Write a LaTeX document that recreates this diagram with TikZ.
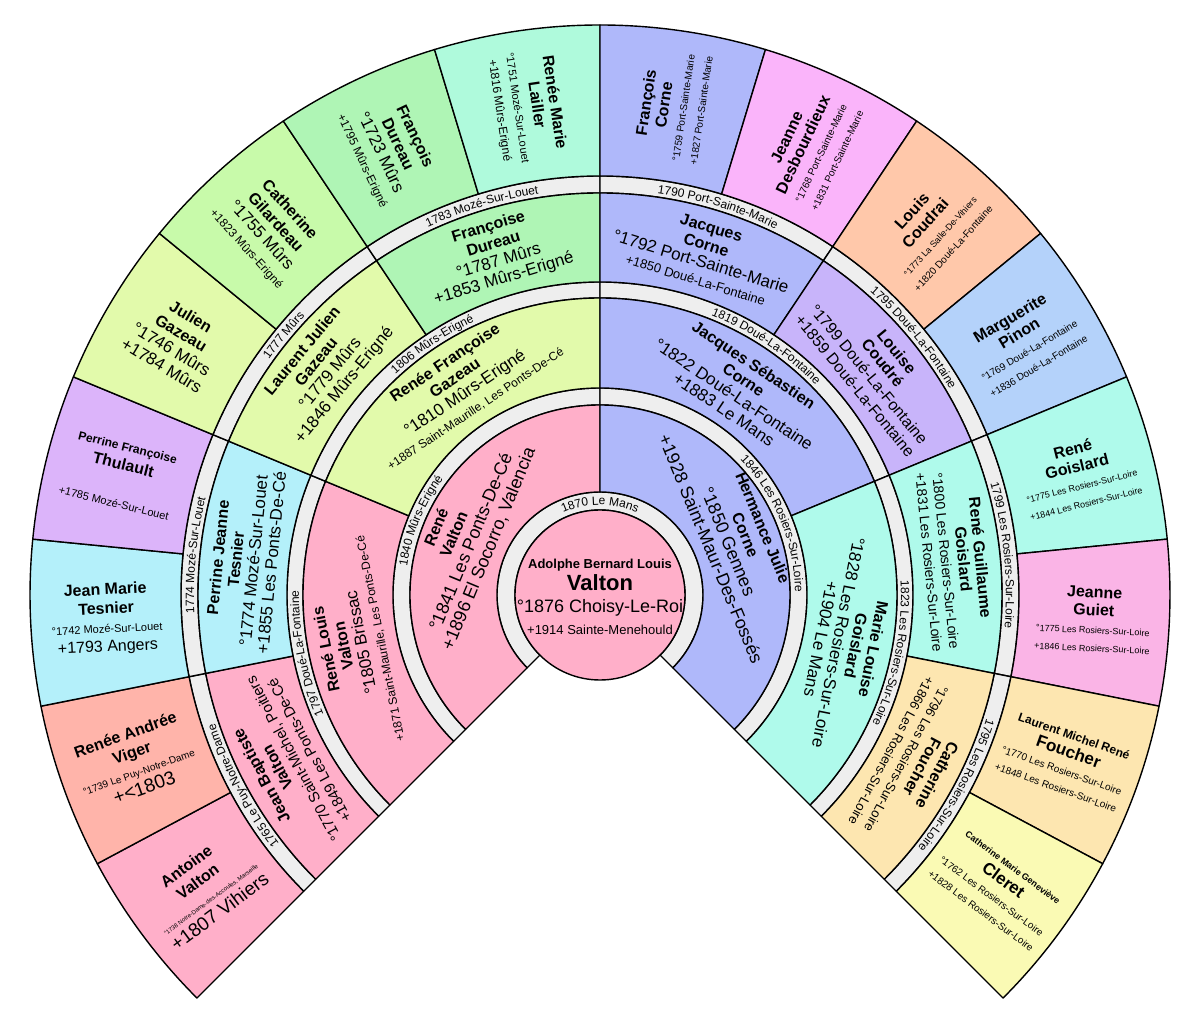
\documentclass[tikz,border=0pt]{standalone}
\usepackage{fontspec}
\setmainfont{Liberation Sans}
\usetikzlibrary{decorations.text}
\newcommand\B[2]{{\fontsize{#1pt}{#1pt}\selectfont\bfseries #2}}
\newcommand\N[2]{{\fontsize{#1pt}{#1pt}\selectfont #2}}
\newcommand\gl{\fontsize{12pt}{12pt}\selectfont}
\newcommand\sect[5]{\filldraw[fill=#5,draw=black,line width=1.4pt,line join=round] (#3:#1pt) arc[start angle=#3,end angle=#4,radius=#1pt] -- (#4:#2pt) arc[start angle=#4,end angle=#3,radius=#2pt] -- cycle;}
\newcommand\glab[4]{\path[decorate,decoration={text along path,text align=center,text={|\gl|#4}}] (#2:#1pt) arc[start angle=#2,end angle=#3,radius=#1pt];}
\definecolor{pk}{HTML}{FFAFC9}
\definecolor{gz}{HTML}{E2FAAB}
\definecolor{du}{HTML}{AFF5B5}
\definecolor{co}{HTML}{AFB8FA}
\definecolor{go}{HTML}{AFFAEB}
\definecolor{cd}{HTML}{C8B4FA}
\definecolor{te}{HTML}{B4F0FA}
\definecolor{fo}{HTML}{FDE6B0}
\definecolor{vi}{HTML}{FFB4AA}
\definecolor{th}{HTML}{DCB4FA}
\definecolor{gi}{HTML}{C8FAAA}
\definecolor{la}{HTML}{AFFADC}
\definecolor{de}{HTML}{FAB4FA}
\definecolor{cr}{HTML}{FFC8AA}
\definecolor{pi}{HTML}{B4D2FA}
\definecolor{gu}{HTML}{FAB4E6}
\definecolor{cl}{HTML}{FAFAB4}
\definecolor{gap}{HTML}{EEEEEE}
\tikzset{txt/.style={align=center,inner sep=0pt,font={\fontsize{10pt}{#1pt}\selectfont}},txt/.default=19}
\begin{document}
\begin{tikzpicture}
\useasboundingbox (-600pt,-429pt) rectangle (600pt,595pt);
% gaps
\sect{85}{103}{225}{-45}{gap}
\sect{190}{207}{225}{90}{gap}\sect{190}{207}{90}{-45}{gap}
\foreach \a in {225,157.5,90,22.5}{\pgfmathsetmacro\b{\a-67.5}\sect{297}{313}{\a}{\b}{gap}}
\foreach \a in {225,191.25,157.5,123.75,90,56.25,22.5,-11.25}{\pgfmathsetmacro\b{\a-33.75}\sect{402}{419}{\a}{\b}{gap}}
% gen1
\sect{103}{190}{225}{90}{pk}\sect{103}{190}{90}{-45}{co}
% gen2
\sect{207}{297}{225}{157.5}{pk}\sect{207}{297}{157.5}{90}{gz}\sect{207}{297}{90}{22.5}{co}\sect{207}{297}{22.5}{-45}{go}
% gen3
\sect{313}{402}{225}{191.25}{pk}\sect{313}{402}{191.25}{157.5}{te}
\sect{313}{402}{157.5}{123.75}{gz}\sect{313}{402}{123.75}{90}{du}
\sect{313}{402}{90}{56.25}{co}\sect{313}{402}{56.25}{22.5}{cd}
\sect{313}{402}{22.5}{-11.25}{go}\sect{313}{402}{-11.25}{-45}{fo}
% gen4
\foreach \c [count=\i from 0] in {pk,vi,te,th,gz,gi,du,la,co,de,cr,pi,go,gu,fo,cl}{
\pgfmathsetmacro\a{225-16.875*\i}\pgfmathsetmacro\b{\a-16.875}\sect{419}{570}{\a}{\b}{\c}}
% center
\filldraw[fill=pk,draw=black,line width=1.4pt] (0,0) circle[radius=85pt];
\node[txt=22] (c0) at (0,-2pt) {\B{13}{Adolphe Bernard Louis}\\\B{22}{Valton}\\\N{18}{°1876 Choisy-Le-Roi}\\\N{13}{+1914 Sainte-Menehould}};
% gen1
\node[txt=19,rotate=67.5] (g1a) at (157.5:148pt) {\B{16}{René}\\\B{16}{Valton}\\\N{18}{°1841 Les Ponts-De-Cé}\\\N{18}{+1896 El Socorro, Valencia}};
\node[txt=19,rotate=-67.5] (g1b) at (22.5:148pt) {\B{16}{Hermance Julie}\\\B{16}{Corne}\\\N{18}{°1850 Gennes}\\\N{18}{+1928 Saint-Maur-Des-Fossés}};
% gen2
\node[txt=18,rotate=101.25] (g2a) at (191.25:252pt) {\B{16}{René Louis}\\\B{16}{Valton}\\\N{17}{°1805 Brissac}\\\N{12}{+1871 Saint-Maurille, Les Ponts-De-Cé}};
\node[txt=18,rotate=33.75] (g2b) at (123.75:252pt) {\B{16}{Renée Françoise}\\\B{16}{Gazeau}\\\N{17}{°1810 Mûrs-Erigné}\\\N{12}{+1887 Saint-Maurille, Les Ponts-De-Cé}};
\node[txt=18,rotate=-33.75] (g2c) at (56.25:250pt) {\B{16}{Jacques Sébastien}\\\B{16}{Corne}\\\N{17}{°1822 Doué-La-Fontaine}\\\N{17}{+1883 Le Mans}};
\node[txt=18,rotate=-101.25] (g2d) at (-11.25:252pt) {\B{16}{Marie Louise}\\\B{16}{Goislard}\\\N{17}{°1828 Les Rosiers-Sur-Loire}\\\N{17}{+1904 Le Mans}};
% gen3
\node[txt=18,rotate=118.125] (g3a) at (208.125:357pt) {\B{16}{Jean Baptiste}\\\B{16}{Valton}\\\N{15}{°1770 Saint-Michel, Poitiers}\\\N{15}{+1849 Les Ponts-De-Cé}};
\node[txt=18,rotate=84.375] (g3b) at (174.375:357pt) {\B{16}{Perrine Jeanne}\\\B{16}{Tesnier}\\\N{17}{°1774 Mozé-Sur-Louet}\\\N{17}{+1855 Les Ponts-De-Cé}};
\node[txt=18,rotate=50.625] (g3c) at (140.625:357pt) {\B{16}{Laurent Julien}\\\B{16}{Gazeau}\\\N{17}{°1779 Mûrs}\\\N{17}{+1846 Mûrs-Erigné}};
\node[txt=18,rotate=16.875] (g3d) at (106.875:357pt) {\B{16}{Françoise}\\\B{16}{Dureau}\\\N{17}{°1787 Mûrs}\\\N{17}{+1853 Mûrs-Erigné}};
\node[txt=18,rotate=-16.875] (g3e) at (73.125:357pt) {\B{16}{Jacques}\\\B{16}{Corne}\\\N{17}{°1792 Port-Sainte-Marie}\\\N{13}{+1850 Doué-La-Fontaine}};
\node[txt=18,rotate=-50.625] (g3f) at (39.375:357pt) {\B{16}{Louise}\\\B{16}{Coudré}\\\N{16}{°1799 Doué-La-Fontaine}\\\N{16}{+1859 Doué-La-Fontaine}};
\node[txt=17,rotate=-84.375] (g3g) at (5.625:357pt) {\B{16}{René Guillaume}\\\B{16}{Goislard}\\\N{14}{°1800 Les Rosiers-Sur-Loire}\\\N{14}{+1831 Les Rosiers-Sur-Loire}};
\node[txt=17,rotate=-118.125] (g3h) at (-28.125:357pt) {\B{16}{Catherine}\\\B{16}{Foucher}\\\N{13}{°1796 Les Rosiers-Sur-Loire}\\\N{13}{+1866 Les Rosiers-Sur-Loire}};
% gen4
\node[txt=19,rotate=36.5625] (g4a) at (216.5625:494pt) {\B{16}{Antoine}\\\B{16}{Valton}\\\N{6}{°1738 Notre-Dame-des-Accoules, Marseille}\\\N{19}{+1807 Vihiers}};
\node[txt=19,rotate=19.6875] (g4b) at (199.6875:494pt) {\B{16}{Renée Andrée}\\\B{16}{Viger}\\\N{10}{°1739 Le Puy-Notre-Dame}\\\N{19}{+<1803}};
\node[txt=19,rotate=2.8125] (g4c) at (182.8125:494pt) {\B{16}{Jean Marie}\\\B{16}{Tesnier}\\\N{11}{°1742 Mozé-Sur-Louet}\\\N{16}{+1793 Angers}};
\node[txt=19,rotate=-14.0625] (g4d) at (165.9375:494pt) {\B{12}{Perrine Françoise}\\\B{16}{Thulault}\\\\\N{11}{+1785 Mozé-Sur-Louet}};
\node[txt=19,rotate=-30.9375] (g4e) at (149.0625:494pt) {\B{16}{Julien}\\\B{16}{Gazeau}\\\N{17}{°1746 Mûrs}\\\N{17}{+1784 Mûrs}};
\node[txt=19,rotate=-47.8125] (g4f) at (132.1875:494pt) {\B{16}{Catherine}\\\B{16}{Gilardeau}\\\N{17}{°1755 Mûrs}\\\N{12}{+1823 Mûrs-Erigné}};
\node[txt=19,rotate=-64.6875] (g4g) at (115.3125:494pt) {\B{16}{François}\\\B{16}{Dureau}\\\N{17}{°1723 Mûrs}\\\N{12}{+1795 Mûrs-Erigné}};
\node[txt=18,rotate=-81.5625] (g4h) at (98.4375:494pt) {\B{16}{Renée Marie}\\\B{16}{Lailler}\\\N{11}{°1751 Mozé-Sur-Louet}\\\N{12}{+1816 Mûrs-Erigné}};
\node[txt=18,rotate=81.5625] (g4i) at (81.5625:494pt) {\B{16}{François}\\\B{16}{Corne}\\\N{10}{°1759 Port-Sainte-Marie}\\\N{10}{+1827 Port-Sainte-Marie}};
\node[txt=18,rotate=64.6875] (g4j) at (64.6875:494pt) {\B{16}{Jeanne}\\\B{16}{Desbourdieux}\\\N{10}{°1768 Port-Sainte-Marie}\\\N{10}{+1831 Port-Sainte-Marie}};
\node[txt=18,rotate=47.8125] (g4k) at (47.8125:494pt) {\B{16}{Louis}\\\B{16}{Coudrai}\\\N{9}{°1773 La Salle-De-Vihiers}\\\N{10}{+1820 Doué-La-Fontaine}};
\node[txt=18,rotate=30.9375] (g4l) at (30.9375:494pt) {\B{16}{Marguerite}\\\B{16}{Pinon}\\\N{10}{°1769 Doué-La-Fontaine}\\\N{10}{+1836 Doué-La-Fontaine}};
\node[txt=18,rotate=14.0625] (g4m) at (14.0625:494pt) {\B{16}{René}\\\B{16}{Goislard}\\\N{9}{°1775 Les Rosiers-Sur-Loire}\\\N{9}{+1844 Les Rosiers-Sur-Loire}};
\node[txt=18,rotate=-2.8125] (g4n) at (-2.8125:494pt) {\B{16}{Jeanne}\\\B{16}{Guiet}\\\N{9}{°1775 Les Rosiers-Sur-Loire}\\\N{9}{+1846 Les Rosiers-Sur-Loire}};
\node[txt=18,rotate=-19.6875] (g4o) at (-19.6875:494pt) {\B{12}{Laurent Michel René}\\\B{17}{Foucher}\\\N{10}{°1770 Les Rosiers-Sur-Loire}\\\N{10}{+1848 Les Rosiers-Sur-Loire}};
\node[txt=18,rotate=-36.5625] (g4p) at (-36.5625:494pt) {\B{9}{Catherine Marie Geneviève}\\\B{17}{Cleret}\\\N{10}{°1762 Les Rosiers-Sur-Loire}\\\N{10}{+1828 Les Rosiers-Sur-Loire}};
% gap labels
\glab{90}{225}{-45}{1870 Le Mans}
\glab{195}{225}{90}{1840 Mûrs-Erigné}
\glab{195}{90}{-45}{1846 Les Rosiers-Sur-Loire}
\glab{301}{225}{157.5}{1797 Doué-La-Fontaine}
\glab{301}{157.5}{90}{1806 Mûrs-Erigné}
\glab{301}{90}{22.5}{1819 Doué-La-Fontaine}
\glab{301}{22.5}{-45}{1823 Les Rosiers-Sur-Loire}
\glab{406}{225}{191.25}{1765 Le Puy-Notre-Dame}
\glab{406}{191.25}{157.5}{1774 Mozé-Sur-Louet}
\glab{406}{157.5}{123.75}{1777 Mûrs}
\glab{406}{123.75}{90}{1783 Mozé-Sur-Louet}
\glab{406}{90}{56.25}{1790 Port-Sainte-Marie}
\glab{406}{56.25}{22.5}{1795 Doué-La-Fontaine}
\glab{406}{22.5}{-11.25}{1799 Les Rosiers-Sur-Loire}
\glab{406}{-11.25}{-45}{1795 Les Rosiers-Sur-Loire}
\end{tikzpicture}
\end{document}
